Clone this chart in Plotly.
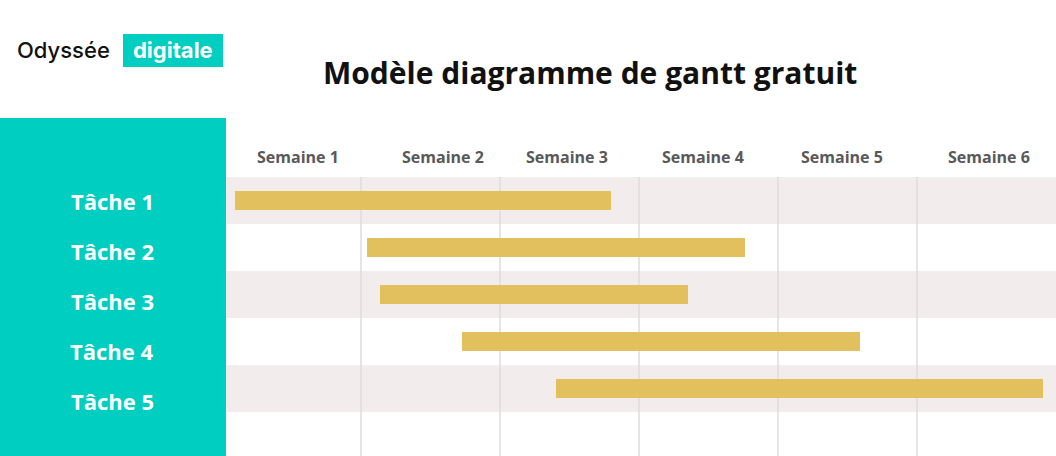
import plotly.graph_objects as go

# ---- data ----
tasks = ["Tâche 1", "Tâche 2", "Tâche 3", "Tâche 4", "Tâche 5"]
start_week = [0.09, 1.04, 1.14, 1.73, 2.40]
end_week = [2.80, 3.76, 3.35, 4.59, 5.91]
week_labels = ["Semaine 1", "Semaine 2", "Semaine 3", "Semaine 4", "Semaine 5", "Semaine 6"]
title_text = "Modèle diagramme de gantt gratuit"

# ---- layout helpers (pixels of a 1056x456 page) ----
W, H = 1056, 456
PLOT_L, PLOT_T = 222, 177
TEAL = "#00CEC1"
BAR = "#E3C05E"
BAND = "#F2ECEC"
GRID = "#DCDCDC"
Y_BOTTOM = (H - 200.5) / 47
week_label_pos = [0.55, 1.59, 2.48, 3.46, 4.46, 5.52]  # header label placement (layout)

def px(x):
    return x / W

def py(y):
    return 1 - y / H

n = len(tasks)
rows = list(range(n))
durations = [e - s for s, e in zip(start_week, end_week)]

fig = go.Figure()
fig.add_trace(go.Bar(
    y=rows, x=durations, base=start_week, orientation="h",
    marker=dict(color=BAR, line=dict(width=0)), width=0.4,
    hoverinfo="skip", showlegend=False,
))

shapes = []
# alternating row bands
for i in rows:
    if i % 2 == 0:
        shapes.append(dict(type="rect", xref="x", yref="y", x0=0, x1=len(week_labels),
                           y0=i - 0.5, y1=i + 0.5, fillcolor=BAND, line=dict(width=0), layer="below"))
# vertical week separators
for k in range(1, len(week_labels)):
    shapes.append(dict(type="line", xref="x", yref="y", x0=k, x1=k,
                       y0=-0.5, y1=Y_BOTTOM, line=dict(color=GRID, width=1.5), layer="below"))
# teal side panel
shapes.append(dict(type="rect", xref="paper", yref="paper", x0=0, x1=px(226),
                   y0=0, y1=py(118), fillcolor=TEAL, line=dict(width=0), layer="above"))
# logo box
shapes.append(dict(type="rect", xref="paper", yref="paper", x0=px(123), x1=px(223),
                   y0=py(67), y1=py(34), fillcolor=TEAL, line=dict(width=0), layer="above"))

annotations = []
annotations.append(dict(text="Odyssée", xref="paper", yref="paper", x=px(15), y=py(50),
                        xanchor="left", yanchor="middle", showarrow=False,
                        font=dict(family="Inter", size=22, color="#111111", weight=500)))
annotations.append(dict(text="digitale", xref="paper", yref="paper", x=px(173), y=py(50),
                        xanchor="center", yanchor="middle", showarrow=False,
                        font=dict(family="Inter", size=22, color="white", weight=700)))
annotations.append(dict(text=title_text, xref="paper", yref="paper", x=px(590), y=py(72),
                        xanchor="center", yanchor="middle", showarrow=False,
                        font=dict(family="Open Sans", size=30, color="#111111", weight=700)))
for lab, xpos in zip(week_labels, week_label_pos):
    annotations.append(dict(text=lab, xref="x", yref="paper", x=xpos, y=py(157),
                            xanchor="center", yanchor="middle", showarrow=False,
                            font=dict(family="Open Sans", size=16, color="#595959", weight=700)))
for i, t in enumerate(tasks):
    annotations.append(dict(text=t, xref="paper", yref="paper", x=px(112), y=py(201 + 50 * i),
                            xanchor="center", yanchor="middle", showarrow=False,
                            font=dict(family="Open Sans", size=22, color="white", weight=700)))

fig.update_layout(
    width=W, height=H,
    margin=dict(l=0, r=0, t=0, b=0),
    paper_bgcolor="white", plot_bgcolor="white",
    bargap=0,
    xaxis=dict(domain=[px(PLOT_L), 1], range=[0, len(week_labels)], showgrid=False,
               zeroline=False, showticklabels=False, fixedrange=True),
    yaxis=dict(domain=[0, py(PLOT_T)], range=[Y_BOTTOM, -0.5], showgrid=False,
               zeroline=False, showticklabels=False, fixedrange=True),
    shapes=shapes, annotations=annotations,
)

fig.write_html("out.html", config=dict(displayModeBar=False),
               post_script="document.body.style.margin='0';document.body.style.overflow='hidden';")
